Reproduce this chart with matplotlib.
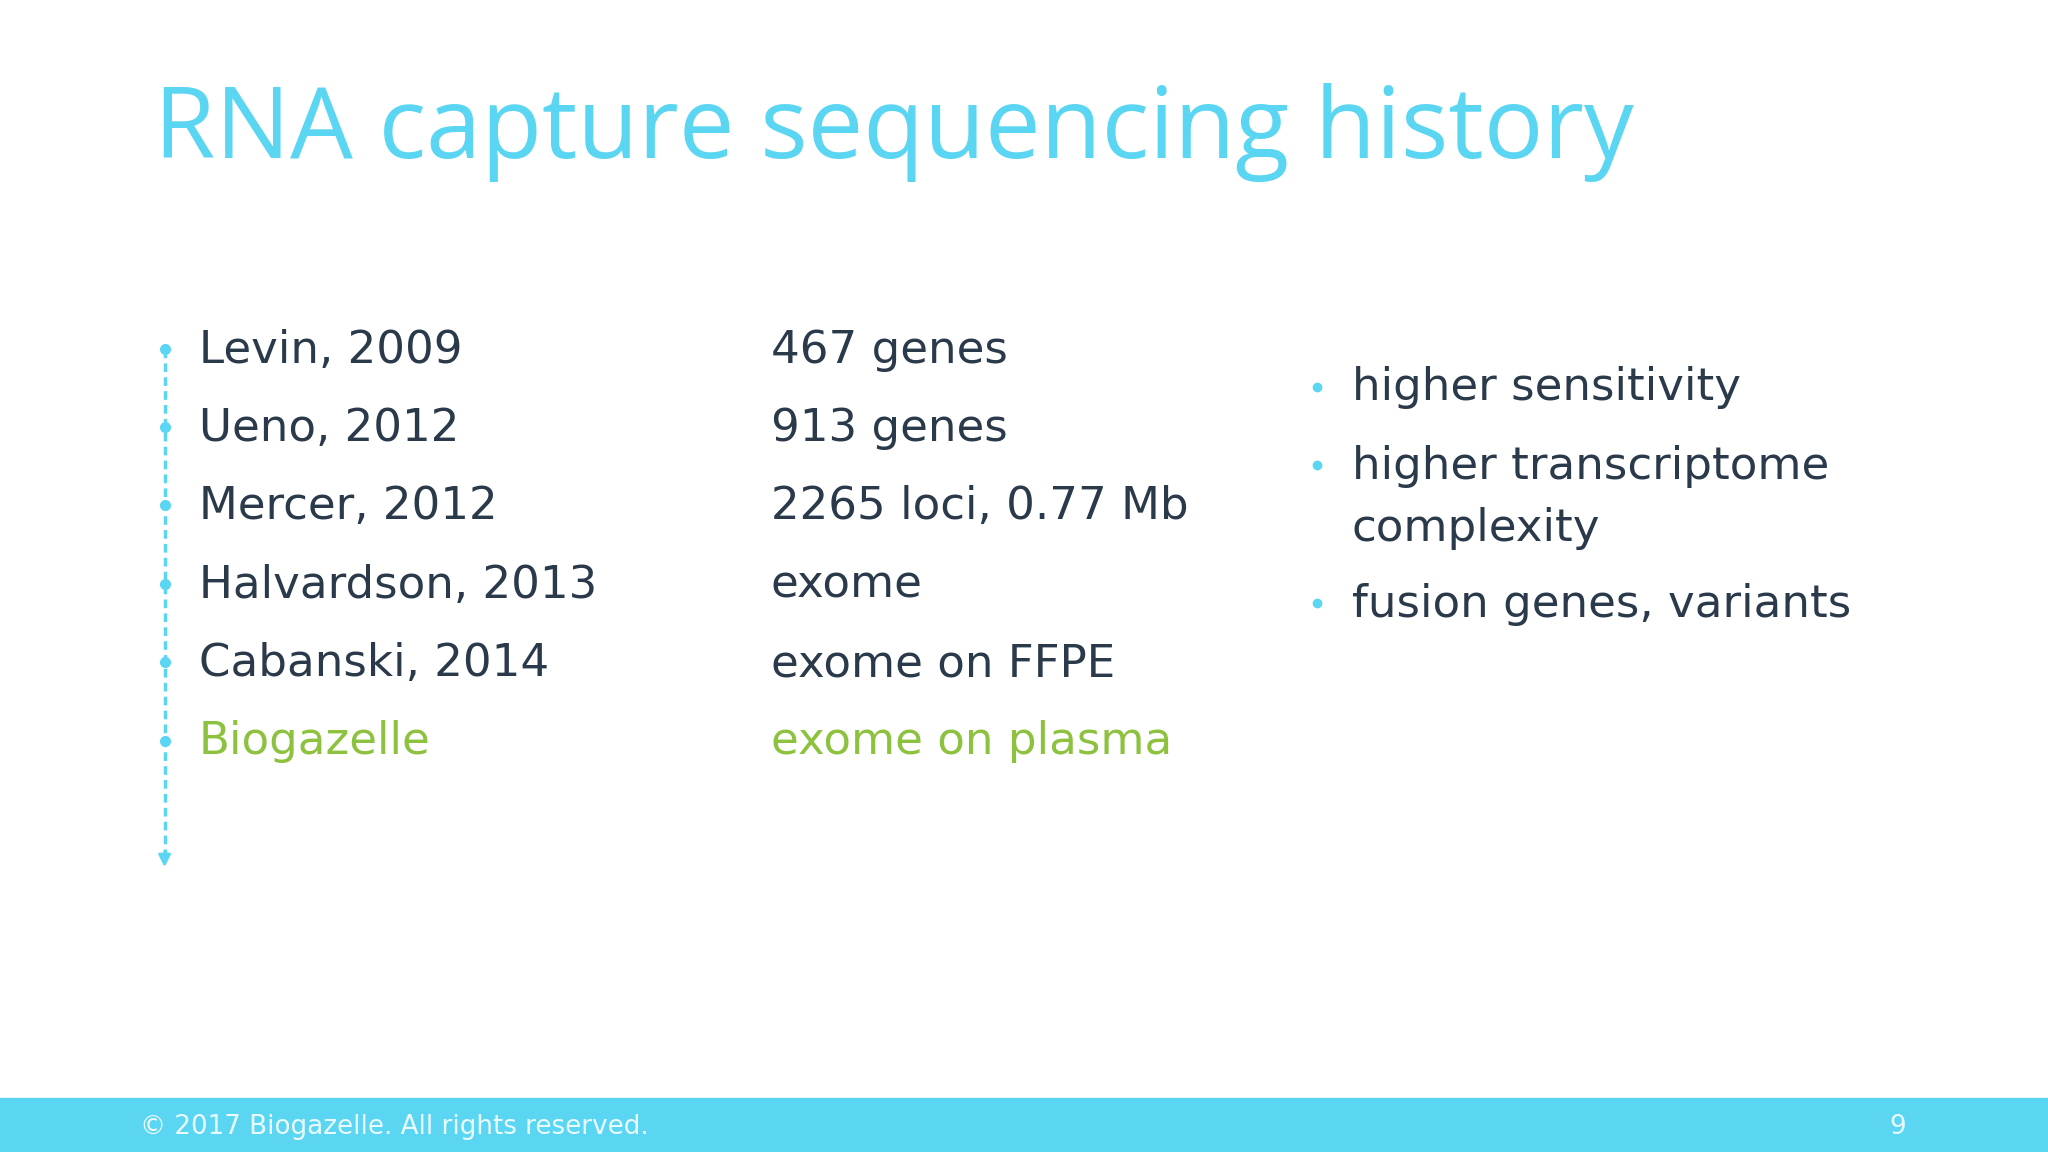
import matplotlib
matplotlib.use("Agg")
import matplotlib.pyplot as plt
from matplotlib.patches import Rectangle

title = "RNA capture sequencing history"
authors = ["Levin, 2009", "Ueno, 2012", "Mercer, 2012", "Halvardson, 2013", "Cabanski, 2014", "Biogazelle"]
details = ["467 genes", "913 genes", "2265 loci, 0.77 Mb", "exome", "exome on FFPE", "exome on plasma"]
bullets = [["higher sensitivity"], ["higher transcriptome", "complexity"], ["fusion genes, variants"]]
footer = "© 2017 Biogazelle. All rights reserved."
page = "9"

DARK = "#2B3A4A"; GREEN = "#8DC23F"; CYAN = "#5AD6F2"
BODY = ['DejaVu Sans']
plt.rcParams['font.family'] = ['Open Sans', 'DejaVu Sans']

fig = plt.figure(figsize=(20.48, 11.52), dpi=100)
ax = fig.add_axes([0, 0, 1, 1])
ax.set_xlim(0, 1568); ax.set_ylim(882, 0); ax.axis('off')

ax.text(118, 101, title, color=CYAN, fontsize=71.5, va='center', ha='left')

rows_y = [267 + 60 * i for i in range(len(authors))]
ax.plot([126, 126], [rows_y[0], 655], ls=(0, (2.5, 1.5)), color=CYAN, lw=2.5)
ax.annotate("", xy=(126, 666), xytext=(126, 650),
            arrowprops=dict(arrowstyle="-|>", color=CYAN, lw=2, mutation_scale=18))
for i, (a, d) in enumerate(zip(authors, details)):
    y = rows_y[i]
    c = GREEN if i == len(authors) - 1 else DARK
    ax.plot(126, y, 'o', color=CYAN, ms=7)
    ax.text(152, y + 1, a, color=c, fontsize=32.5, va='center', ha='left', family=BODY)
    ax.text(590, y + 1, d, color=c, fontsize=32.5, va='center', ha='left', family=BODY)

by = 296
for b in bullets:
    ax.plot(1008, by, 'o', color=CYAN, ms=6)
    for j, line in enumerate(b):
        ax.text(1035, by + 1 + 48 * j, line, color=DARK, fontsize=32.5, va='center', ha='left', family=BODY)
    by += 60 + 48 * (len(b) - 1)
    if len(b) > 1:
        by -= 2

ax.add_patch(Rectangle((0, 841), 1568, 41, color=CYAN, zorder=0))
ax.text(107, 863, footer, color="#EAFBFF", fontsize=18.8, va='center', ha='left', family=BODY)
ax.text(1459, 863, page, color="#EAFBFF", fontsize=18.8, va='center', ha='right', family=BODY)

fig.savefig("out.png", dpi=100)
